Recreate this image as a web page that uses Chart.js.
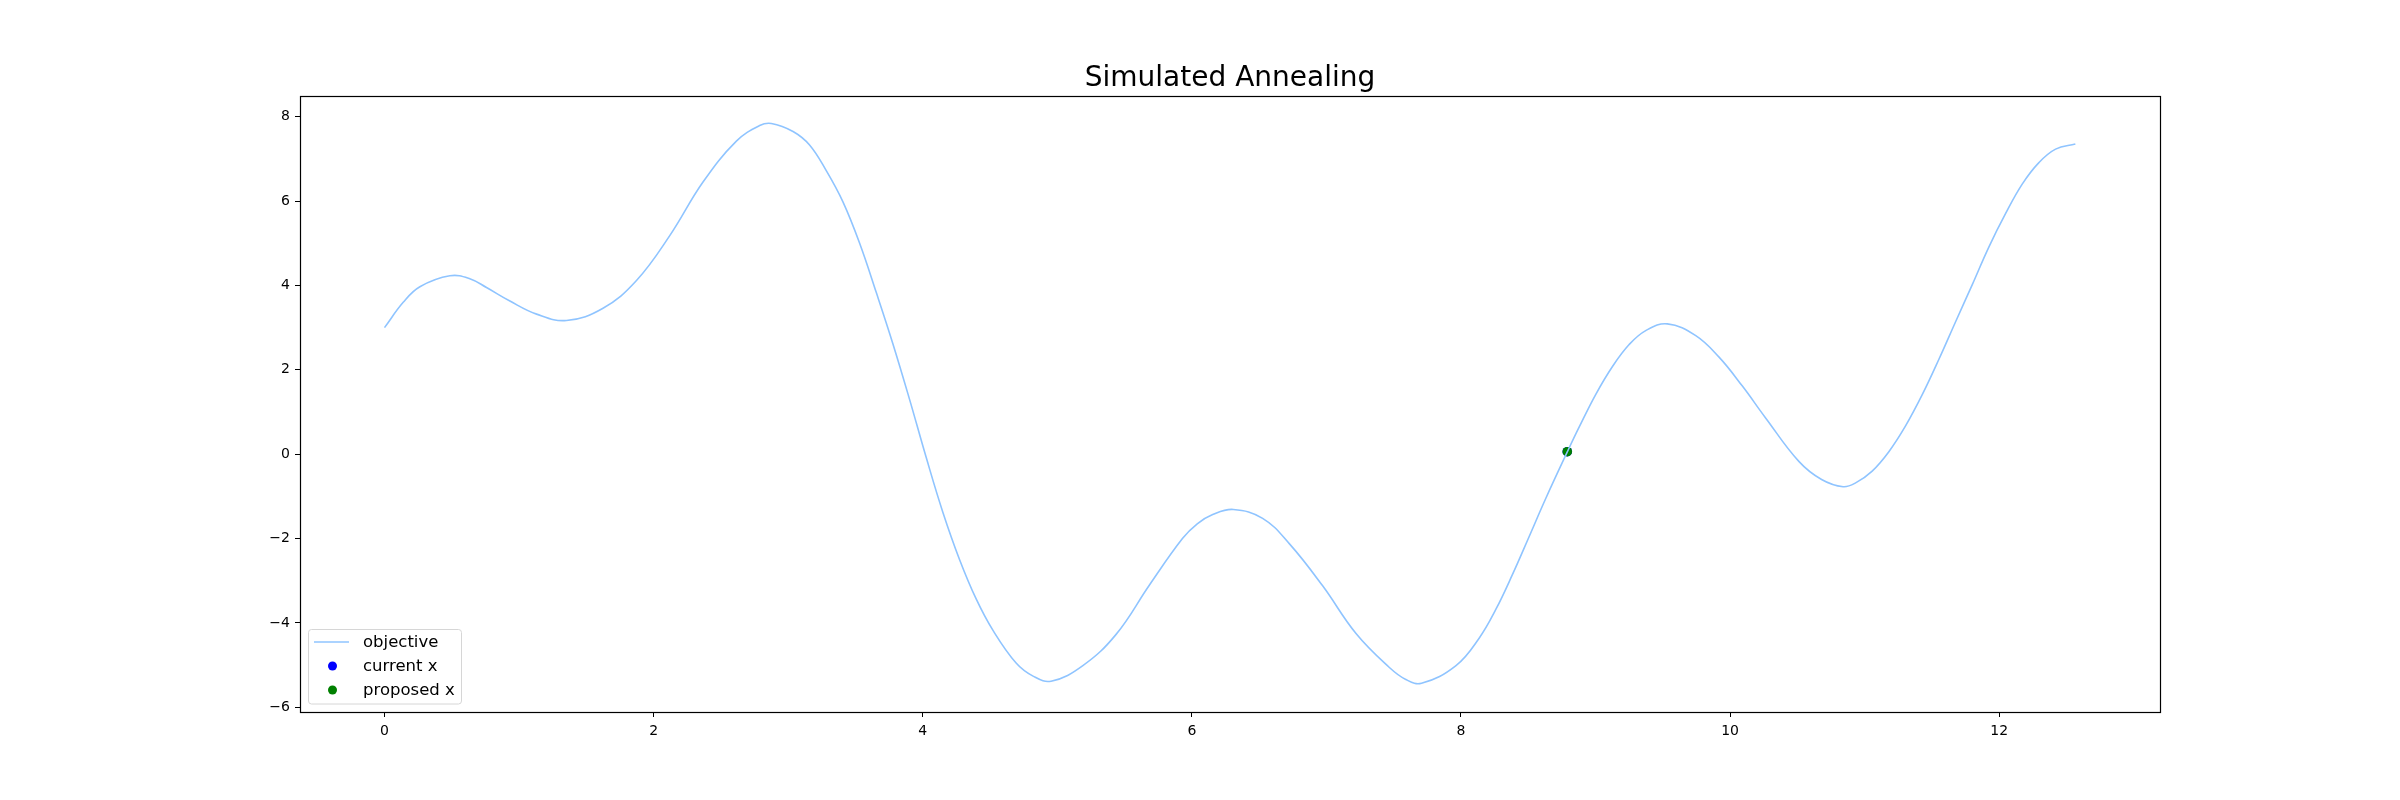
<!DOCTYPE html>
<html>
<head>
<meta charset="utf-8">
<script src="https://cdn.jsdelivr.net/npm/chart.js@4.4.1/dist/chart.umd.min.js"></script>
<style>
  html, body { margin: 0; padding: 0; background: #fff; }
  #wrap { width: 2400px; height: 800px; }
</style>
</head>
<body>
<div id="wrap"><canvas id="chart" width="2400" height="800"></canvas></div>
<script>
// objective curve
var objX = [0, 0.139, 0.263, 0.486, 0.634, 0.758, 0.932, 1.13, 1.352, 1.624, 1.871, 2.12, 2.367,
    2.615, 2.788, 2.875, 3.036, 3.159, 3.283, 3.407, 3.531, 3.655, 3.778, 3.902, 4.026, 4.15,
    4.274, 4.397, 4.521, 4.694, 4.82, 4.954, 5.19, 5.437, 5.685, 5.93, 6.04, 6.155, 6.308, 6.526,
    6.724, 6.972, 7.22, 7.466, 7.59, 7.707, 7.963, 8.135, 8.259, 8.383, 8.507, 8.63, 8.791, 8.878,
    9.002, 9.126, 9.25, 9.373, 9.534, 9.745, 9.918, 10.09, 10.264, 10.511, 10.68, 10.84, 10.933,
    11.056, 11.18, 11.304, 11.428, 11.552, 11.676, 11.8, 11.923, 12.047, 12.171, 12.295, 12.419,
    12.566];
var objY = [3.0, 3.6, 3.97, 4.23, 4.16, 3.95, 3.63, 3.32, 3.17, 3.46, 4.11, 5.18, 6.45,
    7.42, 7.79, 7.84, 7.65, 7.33, 6.72, 5.98, 5.00, 3.83, 2.62, 1.3, -0.08, -1.38,
    -2.50, -3.43, -4.17, -4.95, -5.26, -5.38, -5.01, -4.27, -3.10, -2.0, -1.65, -1.43, -1.31, -1.52,
    -2.12, -3.12, -4.25, -5.05, -5.34, -5.43, -5.01, -4.36, -3.68, -2.85, -1.95, -1.05, 0.06, 0.64,
    1.42, 2.08, 2.6, 2.93, 3.09, 2.81, 2.30, 1.62, 0.86, -0.17, -0.6, -0.77, -0.68,
    -0.40, 0.06, 0.67, 1.41, 2.25, 3.14, 4.02, 4.91, 5.70, 6.40, 6.91, 7.23,
    7.35];

var currentX = [8.79];
var currentY = [0.06];
var proposedX = [8.79];
var proposedY = [0.06];

var xTicks = [0, 2, 4, 6, 8, 10, 12];
var yTicks = [-6, -4, -2, 0, 2, 4, 6, 8];

function toPoints(xs, ys) {
    return xs.map(function (x, i) { return {x: x, y: ys[i]}; });
}

var tickFont = {family: 'DejaVu Sans', size: 14};

// centre the title over the axes, draw top/right spines and the legend box
var framePlugin = {
    id: 'frame',
    afterLayout: function (chart) {
        var t = chart.titleBlock;
        if (t) {
            t.left = chart.chartArea.left;
            t.right = chart.chartArea.right;
            t.width = t.right - t.left;
        }
    },
    afterDraw: function (chart) {
        var ctx = chart.ctx;
        var a = chart.chartArea;
        ctx.save();
        ctx.strokeStyle = '#000';
        ctx.lineWidth = 1.2;
        ctx.strokeRect(Math.round(a.left) + 0.5, Math.round(a.top) + 0.5,
            Math.round(a.right - a.left), Math.round(a.bottom - a.top));

        var bx = a.left + 8.5, by = a.bottom - 82.5, bw = 153, bh = 74.5;
        ctx.beginPath();
        ctx.roundRect(bx, by, bw, bh, 3);
        ctx.fillStyle = 'rgba(255,255,255,0.8)';
        ctx.fill();
        ctx.strokeStyle = '#d6d6d6';
        ctx.lineWidth = 1;
        ctx.stroke();

        ctx.font = '16.5px "DejaVu Sans"';
        ctx.textBaseline = 'middle';
        chart.data.datasets.forEach(function (ds, i) {
            var ry = by + 12.5 + i * 24;
            if (ds.type === 'scatter') {
                ctx.beginPath();
                ctx.arc(a.left + 32.5, ry, 4.5, 0, Math.PI * 2);
                ctx.fillStyle = ds.backgroundColor;
                ctx.fill();
            } else {
                ctx.beginPath();
                ctx.moveTo(a.left + 14, ry);
                ctx.lineTo(a.left + 49, ry);
                ctx.strokeStyle = ds.borderColor;
                ctx.lineWidth = ds.borderWidth;
                ctx.stroke();
            }
            ctx.fillStyle = '#000';
            ctx.fillText(ds.label, a.left + 63, ry + 1);
        });
        ctx.restore();
    }
};

var chart = new Chart(document.getElementById('chart').getContext('2d'), {
    type: 'line',
    data: {
        datasets: [{
            label: 'objective',
            data: toPoints(objX, objY),
            borderColor: 'rgb(143, 196, 255)',
            borderWidth: 1.6,
            pointRadius: 0,
            tension: 0.4,
            fill: false,
            order: 0
        }, {
            type: 'scatter',
            label: 'current x',
            data: toPoints(currentX, currentY),
            backgroundColor: 'blue',
            borderWidth: 0,
            pointRadius: 4.8,
            order: 2
        }, {
            type: 'scatter',
            label: 'proposed x',
            data: toPoints(proposedX, proposedY),
            backgroundColor: 'green',
            borderWidth: 0,
            pointRadius: 4.8,
            order: 1
        }]
    },
    options: {
        responsive: false,
        animation: false,
        devicePixelRatio: 1,
        layout: {padding: {left: 0, right: 240, top: 0, bottom: 0}},
        plugins: {
            legend: {display: false},
            tooltip: {enabled: false},
            title: {
                display: true,
                text: 'Simulated Annealing',
                color: '#000',
                font: {family: 'DejaVu Sans', size: 28, weight: 'normal', lineHeight: 1.2},
                padding: {top: 62, bottom: 0.4}
            }
        },
        scales: {
            x: {
                type: 'linear',
                min: -0.628,
                max: 13.195,
                afterFit: function (s) { s.height = 88; },
                afterBuildTicks: function (s) { s.ticks = xTicks.map(function (v) { return {value: v}; }); },
                ticks: {font: tickFont, color: '#000', padding: 6, maxRotation: 0, autoSkip: false},
                grid: {drawOnChartArea: false, drawTicks: true, tickLength: 5, color: '#000'},
                border: {display: false}
            },
            y: {
                type: 'linear',
                min: -6.11,
                max: 8.49,
                afterFit: function (s) { s.width = 300; },
                afterBuildTicks: function (s) { s.ticks = yTicks.map(function (v) { return {value: v}; }); },
                ticks: {
                    font: tickFont, color: '#000', padding: 5, autoSkip: false,
                    callback: function (v) { return String(v).replace('-', '\u2212'); }
                },
                grid: {drawOnChartArea: false, drawTicks: true, tickLength: 5, color: '#000'},
                border: {display: false}
            }
        }
    },
    plugins: [framePlugin]
});
</script>
</body>
</html>
